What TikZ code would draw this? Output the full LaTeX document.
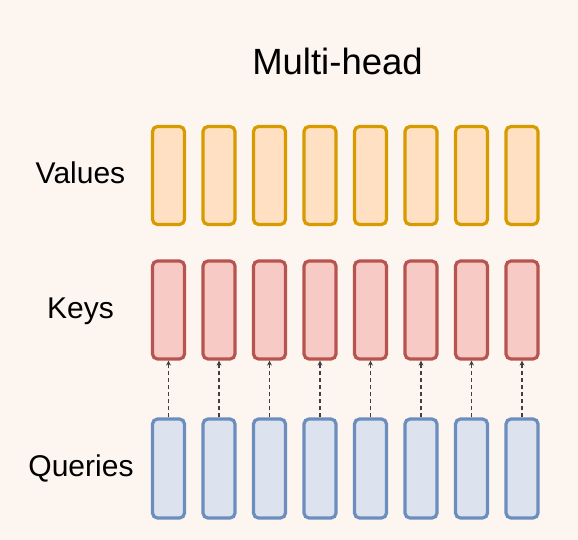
\documentclass[tikz,border=0pt]{standalone}
\usepackage{fontspec}
\setmainfont{Liberation Sans}
\usepackage{xcolor}
\usetikzlibrary{arrows.meta,positioning}
\definecolor{bgcol}{HTML}{FDF5EF}
\definecolor{valfill}{HTML}{FFE0C2}
\definecolor{valdraw}{HTML}{D79B00}
\definecolor{keyfill}{HTML}{F8CAC6}
\definecolor{keydraw}{HTML}{B85450}
\definecolor{qryfill}{HTML}{DCE2EE}
\definecolor{qrydraw}{HTML}{6C8EBF}
\tikzset{
  head/.style={rectangle,rounded corners=5pt,line width=3.2pt,minimum width=32pt,minimum height=98pt,inner sep=0pt},
  valbox/.style={head,fill=valfill,draw=valdraw},
  keybox/.style={head,fill=keyfill,draw=keydraw},
  qrybox/.style={head,fill=qryfill,draw=qrydraw,minimum height=99pt},
  rowlbl/.style={font=\fontsize{30}{35}\selectfont,anchor=base},
  link/.style={-{Stealth[length=5pt,width=5pt]},dash pattern=on 4pt off 3pt,line width=1.5pt,black!75}
}
\begin{document}
\begin{tikzpicture}[x=1pt,y=-1pt]
\fill[bgcol] (0,0) rectangle (578,540);
\useasboundingbox (0,0) rectangle (578,540);
\node[font=\fontsize{36.5}{42}\selectfont,anchor=base] (title) at (337.5,75) {Multi-head};
\node[rowlbl] (lblv) at (80.5,183.3) {Values};
\node[rowlbl] (lblk) at (80.5,318) {Keys};
\node[rowlbl] (lblq) at (81,476) {Queries};
\foreach \i in {1,...,8}{
  \pgfmathsetmacro{\cx}{168.5+50.5*(\i-1)}
  \node[valbox] (v\i) at (\cx,175.5) {};
  \node[keybox] (k\i) at (\cx,310) {};
  \node[qrybox] (q\i) at (\cx,468.5) {};
  \draw[link] (q\i.north) -- (k\i.south);
}
\end{tikzpicture}
\end{document}
